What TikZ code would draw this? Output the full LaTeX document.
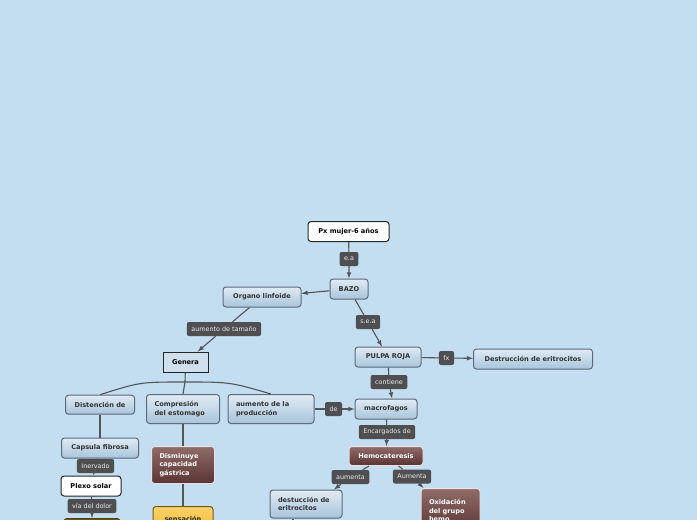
\documentclass[tikz,border=0pt]{standalone}
\usepackage{fontspec}
\setmainfont{DejaVu Sans}
\usepackage{xcolor}
\usepackage{tikz}
\usetikzlibrary{arrows.meta}
\definecolor{mapBackground}{HTML}{C3DDF1}
\definecolor{labelGray}{HTML}{4F4F52}
\definecolor{lineGray}{HTML}{555555}
\definecolor{nodeBorder}{HTML}{5D6B78}
\definecolor{blueTop}{HTML}{E0EBF5}
\definecolor{blueBottom}{HTML}{A8C4DA}
\definecolor{brownTop}{HTML}{8F6B69}
\definecolor{brownBottom}{HTML}{5A3434}
\definecolor{yellowFill}{HTML}{F7BE2C}
\definecolor{oliveFill}{HTML}{6F5A1E}
\tikzset{>=latex}
\tikzset{map-line/.style={line width=1.1pt, color=lineGray}}
\tikzset{map-node/.style={draw, inner sep=0, minimum height=20pt, rounded corners=3pt, line width=1pt, font=\fontsize{6.6}{8.5}\selectfont\bfseries}}
\tikzset{blue-node/.style={map-node, draw=nodeBorder, top color=blueTop, bottom color=blueBottom, text=black!80}}
\tikzset{white-node/.style={map-node, draw=black!85, fill=white, text=black}}
\tikzset{brown-node/.style={map-node, draw=white!80!brownTop, top color=brownTop, bottom color=brownBottom, text=white}}
\tikzset{yellow-node/.style={map-node, draw=oliveFill, top color=yellowFill!70!white, bottom color=yellowFill, text=black!85}}
\tikzset{genera-node/.style={map-node, rounded corners=0pt, draw=black!85, fill=blueTop!70!blueBottom, minimum width=45pt}}
\tikzset{wrap-node/.style={align=left, inner xsep=8pt, text width=#1}}
\tikzset{link-label/.style={fill=labelGray, text=white!92!black, rounded corners=2pt, inner xsep=4.5pt, inner ysep=0, minimum height=14pt, font=\fontsize{6.4}{8}\selectfont}}

\begin{document}
\begin{tikzpicture}[x=1pt, y=-1pt]
    \fill[mapBackground] (0,0) rectangle (697,520);
    \useasboundingbox (0,0) rectangle (697,520);

    % main branch
    \node[white-node, minimum width=81pt] (px) at (348.5,231.5) {Px mujer-6 años};
    \node[link-label] (ea) at (349,259) {e.a};
    \node[blue-node, minimum width=38pt] (bazo) at (349,289) {BAZO};
    \node[blue-node, minimum width=78pt] (organo) at (262,297) {Organo linfoide};
    \node[link-label] (tamano) at (224,329) {aumento de tamaño};
    \node[genera-node] (genera) at (185.5,362) {Genera};
    \node[link-label] (sea) at (368,322) {s.e.a};
    \node[blue-node, minimum width=66pt] (pulpa) at (388,357) {PULPA ROJA};
    \node[link-label] (fx) at (446.5,358) {fx};
    \node[blue-node, minimum width=119pt] (destruccion) at (533,359) {Destrucción de eritrocitos};
    \node[link-label] (contiene) at (389,382) {contiene};
    \node[blue-node, minimum width=62pt] (macrofagos) at (386,409) {macrofagos};
    \node[link-label] (de) at (333.5,409) {de};
    \node[blue-node, wrap-node=70pt, minimum height=29pt] (produccion) at (271,409) {aumento de la\\producción};
    \node[link-label] (encargados) at (387,432) {Encargados de};
    \node[brown-node, minimum width=74pt, minimum height=19pt] (hemo) at (386,456) {Hemocateresis};
    \node[link-label] (aumenta) at (350.5,477) {aumenta};
    \node[link-label] (aumentaB) at (412,476.5) {Aumenta};
    \node[blue-node, wrap-node=56pt, minimum height=28pt] (destuccion) at (306,504) {destucción de\\eritrocitos};
    \node[brown-node, wrap-node=43pt, minimum height=44pt, anchor=north] (oxidacion) at (450.5,488) {Oxidación\\del grupo\\hemo};

    % left branch
    \coordinate (branch) at (185,382);
    \node[blue-node, minimum width=69pt, minimum height=19pt] (distencion) at (100,404.7) {Distención de};
    \node[blue-node, wrap-node=57pt, minimum height=29pt] (compresion) at (183,409) {Compresión\\del estomago};
    \node[blue-node, minimum width=77pt] (capsula) at (100,448) {Capsula fibrosa};
    \node[link-label] (inervado) at (95.5,466) {Inervado};
    \node[white-node, minimum width=60pt] (plexo) at (91,486) {Plexo solar};
    \node[link-label] (dolor) at (92,506) {vía del dolor};
    \node[map-node, draw=oliveFill!70!black, fill=oliveFill, minimum width=56pt, anchor=north] (dolorNode) at (92,518) {};
    \node[brown-node, wrap-node=47pt, minimum height=37pt] (disminuye) at (183,465) {Disminuye\\capacidad\\gástrica};
    \node[yellow-node, minimum width=60pt, minimum height=24pt, anchor=north] (sensacion) at (183,506) {sensación};

    \draw[map-line, ->] (px) -- (ea) -- (bazo);
    \draw[map-line, ->] (bazo) -- (organo);
    \draw[map-line, ->] (organo) -- (tamano) -- (genera);
    \draw[map-line, ->] (bazo) -- (sea) -- (pulpa);
    \draw[map-line, ->] (pulpa) -- (fx) -- (destruccion);
    \draw[map-line, ->] (pulpa) -- (contiene) -- ([xshift=6pt]macrofagos.north);
    \draw[map-line, ->] (produccion) -- (de) -- (macrofagos);
    \draw[map-line, ->] (macrofagos) -- (encargados) -- (hemo);
    \draw[map-line, ->] (hemo) -- (aumenta) -- ([xshift=28pt]destuccion.north);
    \draw[map-line, ->] (hemo) -- (aumentaB) -- ([xshift=-27pt]oxidacion.north);

    \draw[map-line] (genera) -- (branch);
    \draw[map-line] (branch) .. controls (140,382) .. (distencion.north);
    \draw[map-line] (branch) -- (compresion.north);
    \draw[map-line] (branch) .. controls (230,382) .. (produccion.north);
    \draw[map-line] (distencion) -- (capsula);
    \draw[map-line, ->] (capsula) -- (inervado) -- (plexo);
    \draw[map-line, ->] (plexo) -- (dolor) -- (dolorNode);
    \draw[map-line] (compresion) -- (disminuye) -- (sensacion);
    \coordinate (destuccion-end) at (293,530);
    \draw[map-line] (destuccion.south -| destuccion-end) -- (destuccion-end);
\end{tikzpicture}
\end{document}
